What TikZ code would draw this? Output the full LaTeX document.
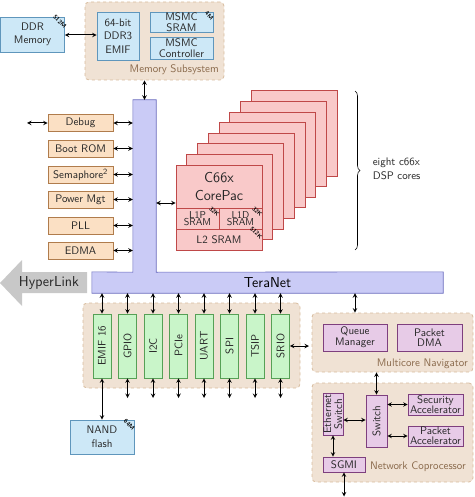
\documentclass[tikz,border=0pt,11pt]{standalone}
\usepackage{tikz}
\usepackage{graphicx}
\usetikzlibrary{positioning}
\usetikzlibrary{decorations.pathreplacing}
\renewcommand{\familydefault}{\sfdefault}

\definecolor{memfill}{HTML}{CDE8F7}
\definecolor{memdraw}{HTML}{5F96BC}
\definecolor{ctlfill}{HTML}{FBE0C4}
\definecolor{ctldraw}{HTML}{B07C4C}
\definecolor{grpfill}{HTML}{F0E2D4}
\definecolor{grpdraw}{HTML}{D8BC9E}
\definecolor{grptext}{HTML}{8A6A4C}
\definecolor{busfill}{HTML}{CACBF6}
\definecolor{busdraw}{HTML}{6466BC}
\definecolor{corefill}{HTML}{F9C9C9}
\definecolor{coredraw}{HTML}{BF4848}
\definecolor{perifill}{HTML}{C9F5C9}
\definecolor{peridraw}{HTML}{56A056}
\definecolor{navfill}{HTML}{E7CBE7}
\definecolor{navdraw}{HTML}{7E3F7E}
\definecolor{hyperfill}{HTML}{C8C8C8}

\tikzset{
  blk/.style={draw, line width=0.6pt, inner sep=0pt, align=center, text=black!85},
  memblk/.style={blk, draw=memdraw, fill=memfill},
  ctlblk/.style={blk, draw=ctldraw, fill=ctlfill},
  coreblk/.style={blk, draw=coredraw, fill=corefill},
  periblk/.style={blk, draw=peridraw, fill=perifill},
  navblk/.style={blk, draw=navdraw, fill=navfill},
  grp/.style={draw=grpdraw, fill=grpfill, dashed, line width=0.8pt, rounded corners=4pt, inner sep=0pt},
  grplabel/.style={text=grptext, anchor=east, inner sep=0pt},
  sizetag/.style={font=\tiny\bfseries, rotate=-45, inner sep=0pt},
  link/.style={<->, >=stealth, line width=1pt},
}

\begin{document}
\begin{tikzpicture}[x=1pt,y=-1pt]
\useasboundingbox (0,0) rectangle (474,497);

% memory subsystem
\node[grp, minimum width=139pt, minimum height=78pt] (memsub) at (154.5,41) {};
\node[grplabel] (memsublabel) at (219,70) {Memory Subsystem};
\node[memblk, minimum width=64pt, minimum height=35pt] (ddr) at (32.5,34.5) {DDR\\Memory};
\node[memblk, minimum width=42pt, minimum height=48pt] (emif) at (118,36) {64-bit\\DDR3\\EMIF};
\node[memblk, minimum width=63pt, minimum height=20pt] (msram) at (181.5,22) {MSMC\\[-3pt]SRAM};
\node[memblk, minimum width=63pt, minimum height=22pt] (mctl) at (181.5,48) {MSMC\\[-3pt]Controller};
\node[sizetag] (ddrsize) at ([shift={(-5,5)}]ddr.north east) {512M};
\node[sizetag] (msramsize) at ([shift={(-4,4)}]msram.north east) {4M};
\draw[link] (ddr.east |- 0,35) -- (emif.west |- 0,35);

% TeraNet bus
\node[fill=busfill, minimum width=23pt, minimum height=172pt, inner sep=0pt] (vbus) at (144.5,186) {};
\node[fill=busfill, minimum width=351pt, minimum height=21pt, inner sep=0pt, font=\Large] (teranet) at (267.5,282.5) {TeraNet};
\draw[busdraw, line width=0.6pt] (vbus.north west) -- (vbus.north east) -- (vbus.south east) -- (teranet.north east)
  -- (teranet.south east) -- (teranet.south west) -- (teranet.north west) -- (vbus.south west) -- cycle;
\draw[link] (vbus.north) -- (vbus.north |- memsub.south);

% HyperLink
\fill[hyperfill] (87,272) -- (22,272) -- (22,260) -- (0,283) -- (22,306) -- (22,293) -- (87,293) -- cycle;
\node[font=\Large, text=black!85] (hyper) at (49,282.5) {HyperLink};

% left blocks
\node[ctlblk, minimum width=65pt, minimum height=17pt] (debug) at (80.5,123) {Debug};
\node[ctlblk, minimum width=65pt, minimum height=17pt] (bootrom) at (80.5,148.5) {Boot ROM};
\node[ctlblk, minimum width=65pt, minimum height=17pt] (sema) at (80.5,174.5) {Semaphore\textsuperscript{2}};
\node[ctlblk, minimum width=65pt, minimum height=17pt] (power) at (80.5,199.5) {Power Mgt};
\node[ctlblk, minimum width=65pt, minimum height=17pt] (pll) at (80.5,225.5) {PLL};
\node[ctlblk, minimum width=65pt, minimum height=17pt] (edma) at (80.5,250.5) {EDMA};
\coordinate (debugout) at (27,123);
\draw[link] (debugout) -- (debug.west);
\draw[link] (debug.east) -- (debug.east -| vbus.west);
\draw[link] (bootrom.east) -- (bootrom.east -| vbus.west);
\draw[link] (sema.east) -- (sema.east -| vbus.west);
\draw[link] (power.east) -- (power.east -| vbus.west);
\draw[link] (pll.east) -- (pll.east -| vbus.west);
\draw[link] (edma.east) -- (edma.east -| vbus.west);

% DSP cores
\node[coreblk, minimum width=86pt, minimum height=85pt] (core7) at (293.9,133.3) {};
\node[coreblk, minimum width=86pt, minimum height=85pt] (core6) at (283.2,143.9) {};
\node[coreblk, minimum width=86pt, minimum height=85pt] (core5) at (272.5,154.5) {};
\node[coreblk, minimum width=86pt, minimum height=85pt] (core4) at (261.8,165.1) {};
\node[coreblk, minimum width=86pt, minimum height=85pt] (core3) at (251.1,175.7) {};
\node[coreblk, minimum width=86pt, minimum height=85pt] (core2) at (240.4,186.3) {};
\node[coreblk, minimum width=86pt, minimum height=85pt] (core1) at (229.7,196.9) {};
\node[coreblk, minimum width=86pt, minimum height=85pt] (core) at (219,207.5) {};
\node[font=\Large, align=center, text=black!85] (corepac) at (219,186.5) {C66x\\CorePac};
\node[coreblk, minimum width=43pt, minimum height=21pt, font=\small] (l1p) at (197.5,218.5) {L1P\\[-5pt]SRAM};
\node[coreblk, minimum width=43pt, minimum height=21pt, font=\small] (l1d) at (240.5,218.5) {L1D\\[-5pt]SRAM};
\node[coreblk, minimum width=86pt, minimum height=21pt] (l2) at (219,239.5) {L2 SRAM};
\node[sizetag] (l1psize) at ([shift={(-5,4)}]l1p.north east) {32K};
\node[sizetag] (l1dsize) at ([shift={(-5,4)}]l1d.north east) {32K};
\node[sizetag] (l2size) at ([shift={(-6,4)}]l2.north east) {512K};
\draw[link] ([yshift=4.5pt]core.west) -- ([yshift=4.5pt]core.west -| vbus.east);
\draw[decorate, decoration={brace, amplitude=5pt}, semithick] (355,91) -- (355,250);
\node[anchor=west, align=left, text=black!85] (corelabel) at (369,169) {eight c66x\\DSP cores};

% peripherals
\node[grp, minimum width=217pt, minimum height=85pt] (perigrp) at (191.5,345.5) {};
\node[periblk, minimum width=18pt, minimum height=64pt] (emif16) at (102,346) {\rotatebox{90}{EMIF 16}};
\node[periblk, minimum width=18pt, minimum height=64pt] (gpio) at (127.5,346) {\rotatebox{90}{GPIO}};
\node[periblk, minimum width=18pt, minimum height=64pt] (i2c) at (153,346) {\rotatebox{90}{I2C}};
\node[periblk, minimum width=18pt, minimum height=64pt] (pcie) at (178.5,346) {\rotatebox{90}{PCIe}};
\node[periblk, minimum width=18pt, minimum height=64pt] (uart) at (204,346) {\rotatebox{90}{UART}};
\node[periblk, minimum width=18pt, minimum height=64pt] (spi) at (229.5,346) {\rotatebox{90}{SPI}};
\node[periblk, minimum width=18pt, minimum height=64pt] (tsip) at (255,346) {\rotatebox{90}{TSIP}};
\node[periblk, minimum width=18pt, minimum height=64pt] (srio) at (280.5,346) {\rotatebox{90}{SRIO}};
\draw[link] (emif16.north) -- (emif16.north |- teranet.south);
\draw[link] (gpio.north) -- (gpio.north |- teranet.south);
\draw[link] (i2c.north) -- (i2c.north |- teranet.south);
\draw[link] (pcie.north) -- (pcie.north |- teranet.south);
\draw[link] (uart.north) -- (uart.north |- teranet.south);
\draw[link] (spi.north) -- (spi.north |- teranet.south);
\draw[link] (tsip.north) -- (tsip.north |- teranet.south);
\draw[link] (srio.north) -- (srio.north |- teranet.south);
\coordinate (gpioout) at (127.5,398);
\coordinate (i2cout) at (153,398);
\coordinate (pcieout) at (178.5,398);
\coordinate (uartout) at (204,398);
\coordinate (spiout) at (229.5,398);
\coordinate (tsipout) at (255,398);
\coordinate (srioout) at (280.5,398);
\coordinate (srioside) at (309,346);
\draw[link] (gpio.south) -- (gpioout);
\draw[link] (i2c.south) -- (i2cout);
\draw[link] (pcie.south) -- (pcieout);
\draw[link] (uart.south) -- (uartout);
\draw[link] (spi.south) -- (spiout);
\draw[link] (tsip.south) -- (tsipout);
\draw[link] (srio.south) -- (srioout);
\draw[link] (srio.east) -- (srioside);
\node[memblk, minimum width=64pt, minimum height=34pt] (nand) at (102,437) {NAND\\flash};
\node[sizetag] (nandsize) at ([shift={(-5,5)}]nand.north east) {64M};
\draw[link] (emif16.south) -- (nand.north);

% multicore navigator
\node[grp, minimum width=161pt, minimum height=59pt] (navgrp) at (392.5,342.5) {};
\node[grplabel] (navlabel) at (468,364) {Multicore Navigator};
\node[navblk, minimum width=64pt, minimum height=27pt] (qman) at (355,337.5) {Queue\\[-3pt]Manager};
\node[navblk, minimum width=65pt, minimum height=27pt] (pdma) at (429.5,337.5) {Packet\\[-3pt]DMA};
\draw[link] (qman.north |- navgrp.north) -- (qman.north |- teranet.south);

% network coprocessor
\node[grp, minimum width=161pt, minimum height=99pt] (netgrp) at (392.5,432.5) {};
\node[grplabel] (netlabel) at (466,467) {Network Coprocessor};
\node[navblk, minimum width=20pt, minimum height=42pt] (ethsw) at (333,414) {\rotatebox{90}{\shortstack{Ethernet\\Switch}}};
\node[navblk, minimum width=21pt, minimum height=52pt] (swt) at (376.5,421) {\rotatebox{90}{Switch}};
\node[navblk, minimum width=55pt, minimum height=21pt] (secacc) at (435.5,404.5) {Security\\[-4pt]Accelerator};
\node[navblk, minimum width=55pt, minimum height=20pt] (pktacc) at (435.5,436) {Packet\\[-4pt]Accelerator};
\node[navblk, minimum width=42pt, minimum height=15pt] (sgmi) at (344,464.5) {SGMI};
\coordinate (sgmiout) at (344,496.5);
\draw[link] (swt.north) -- (swt.north |- navgrp.south);
\draw[link] ([yshift=-6pt]ethsw.east) -- ([yshift=-6pt]ethsw.east -| swt.west);
\draw[link] (secacc.west -| swt.east) -- (secacc.west);
\draw[link] (pktacc.west -| swt.east) -- (pktacc.west);
\draw[link] (ethsw.south) -- (ethsw.south |- sgmi.north);
\draw[link] (sgmi.south) -- (sgmiout);

\end{tikzpicture}
\end{document}
